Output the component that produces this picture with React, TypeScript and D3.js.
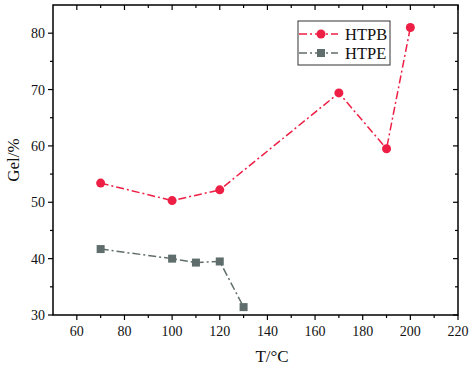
import React from "react";
import * as d3 from "d3";

const htpbT = [70, 100, 120, 170, 190, 200];
const htpbGel = [53.4, 50.3, 52.2, 69.4, 59.5, 81.0];
const htpeT = [70, 100, 110, 120, 130];
const htpeGel = [41.7, 40.0, 39.3, 39.5, 31.4];
const xMajor = [60, 80, 100, 120, 140, 160, 180, 200, 220];
const xMinor = [50, 70, 90, 110, 130, 150, 170, 190, 210];
const yMajor = [30, 40, 50, 60, 70, 80];
const yMinor = [35, 45, 55, 65, 75];

const W = 474, H = 368;
const L = 53, R = 458, T = 5, B = 315;
const RED = "#ee1f45";
const GRAY = "#5f6e6c";
const FONT = "'Liberation Serif', 'Times New Roman', serif";
const DASH = "8,3,2,3";

export default function App() {
  const x = d3.scaleLinear().domain([50, 220]).range([L, R]);
  const y = d3.scaleLinear().domain([30, 85]).range([B, T]);
  const line = d3.line<[number, number]>().x(d => x(d[0])).y(d => y(d[1]));
  const htpb = htpbT.map((t, i) => [t, htpbGel[i]] as [number, number]);
  const htpe = htpeT.map((t, i) => [t, htpeGel[i]] as [number, number]);

  return (
    <svg width={W} height={H} style={{ position: "absolute", left: 0, top: 0, background: "#fff" }}>
      <rect width={W} height={H} fill="#fff" />
      {/* series */}
      <path d={line(htpe) || ""} fill="none" stroke={GRAY} strokeWidth={1.5} strokeDasharray={DASH} />
      {htpe.map((d, i) => (
        <rect key={"e" + i} x={x(d[0]) - 4} y={y(d[1]) - 4} width={8} height={8} fill={GRAY} />
      ))}
      <path d={line(htpb) || ""} fill="none" stroke={RED} strokeWidth={1.5} strokeDasharray={DASH} />
      {htpb.map((d, i) => (
        <circle key={"b" + i} cx={x(d[0])} cy={y(d[1])} r={4.5} fill={RED} />
      ))}
      {/* frame */}
      <rect x={L} y={T} width={R - L} height={B - T} fill="none" stroke="#000" strokeWidth={1.5} />
      {/* x ticks */}
      {xMajor.map(v => (
        <g key={"xm" + v}>
          <line x1={x(v)} x2={x(v)} y1={B} y2={B + 5} stroke="#000" strokeWidth={1.2} />
          <line x1={x(v)} x2={x(v)} y1={T} y2={T + 5} stroke="#000" strokeWidth={1.2} />
          <text x={x(v)} y={B + 21} textAnchor="middle" fontFamily={FONT} fontSize={14} fill="#111">{v}</text>
        </g>
      ))}
      {xMinor.filter(v => v > 50).map(v => (
        <g key={"xn" + v}>
          <line x1={x(v)} x2={x(v)} y1={B} y2={B + 3} stroke="#000" strokeWidth={1.2} />
          <line x1={x(v)} x2={x(v)} y1={T} y2={T + 3} stroke="#000" strokeWidth={1.2} />
        </g>
      ))}
      {/* y ticks */}
      {yMajor.map(v => (
        <g key={"ym" + v}>
          <line x1={L - 5} x2={L} y1={y(v)} y2={y(v)} stroke="#000" strokeWidth={1.2} />
          <line x1={R - 5} x2={R} y1={y(v)} y2={y(v)} stroke="#000" strokeWidth={1.2} />
          <text x={L - 8} y={y(v) + 5} textAnchor="end" fontFamily={FONT} fontSize={14} fill="#111">{v}</text>
        </g>
      ))}
      {yMinor.map(v => (
        <g key={"yn" + v}>
          <line x1={L - 3} x2={L} y1={y(v)} y2={y(v)} stroke="#000" strokeWidth={1.2} />
          <line x1={R - 3} x2={R} y1={y(v)} y2={y(v)} stroke="#000" strokeWidth={1.2} />
        </g>
      ))}
      {/* axis titles */}
      <text x={272} y={362} textAnchor="middle" fontFamily={FONT} fontSize={17} fill="#111">T/°C</text>
      <text transform="translate(19,160) rotate(-90)" textAnchor="middle" fontFamily={FONT} fontSize={17} fill="#111">Gel/%</text>
      {/* legend */}
      <rect x={298} y={21} width={92} height={44} fill="#fff" stroke="#333" strokeWidth={1} />
      <line x1={299} x2={338} y1={34} y2={34} stroke={RED} strokeWidth={1.5} strokeDasharray={DASH} />
      <circle cx={321} cy={34} r={4.5} fill={RED} />
      <text x={345} y={39.5} fontFamily={FONT} fontSize={16.5} fill="#111">HTPB</text>
      <line x1={299} x2={338} y1={53} y2={53} stroke={GRAY} strokeWidth={1.5} strokeDasharray={DASH} />
      <rect x={317} y={49} width={8} height={8} fill={GRAY} />
      <text x={345} y={58.5} fontFamily={FONT} fontSize={16.5} fill="#111">HTPE</text>
    </svg>
  );
}
